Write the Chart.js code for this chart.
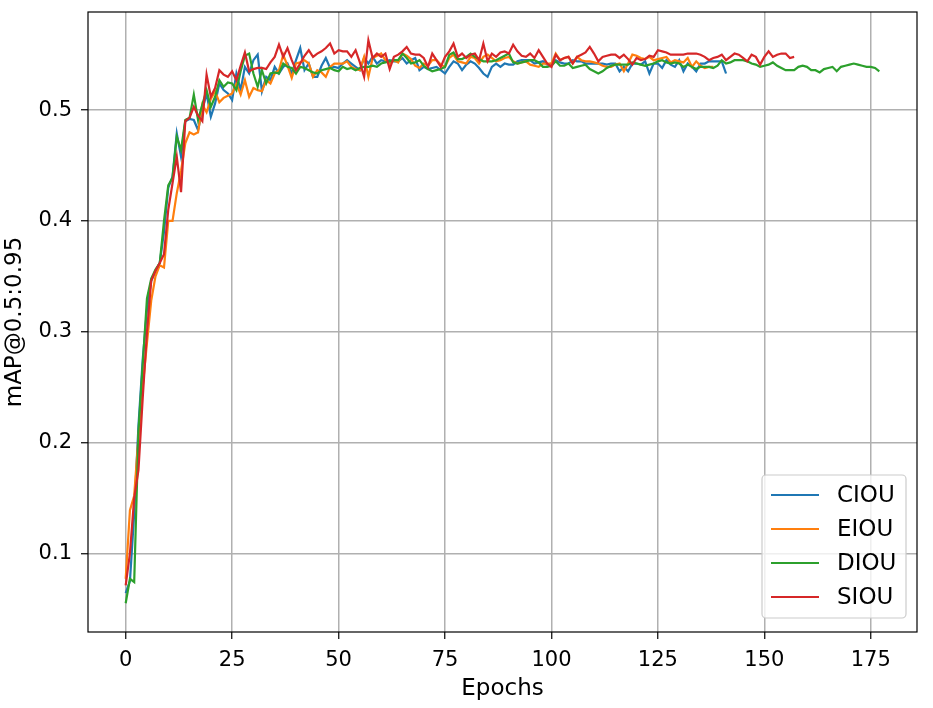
<!DOCTYPE html>
<html>
<head>
<meta charset="utf-8">
<script src="https://cdn.jsdelivr.net/npm/chart.js@4/dist/chart.umd.min.js"></script>
<style>
  html, body { margin: 0; padding: 0; background: #fff; }
  #wrap { width: 933px; height: 708px; }
</style>
</head>
<body>
<div id="wrap"><canvas id="map-chart" width="933" height="708"></canvas></div>
<script>
// mAP@0.5:0.95 per epoch
const CIOU = [
  0.064, 0.075, 0.136, 0.215, 0.275, 0.320, 0.346, 0.355, 0.362, 0.390,
  0.430, 0.440, 0.479, 0.458, 0.490, 0.492, 0.491, 0.482, 0.500, 0.515,
  0.494, 0.506, 0.524, 0.518, 0.515, 0.509, 0.533, 0.518, 0.539, 0.533,
  0.545, 0.550, 0.517, 0.530, 0.527, 0.539, 0.533, 0.539, 0.542, 0.533,
  0.545, 0.556, 0.536, 0.542, 0.530, 0.530, 0.540, 0.547, 0.538, 0.539,
  0.538, 0.542, 0.545, 0.542, 0.539, 0.536, 0.547, 0.542, 0.548, 0.542,
  0.545, 0.544, 0.545, 0.544, 0.544, 0.547, 0.542, 0.545, 0.547, 0.536,
  0.539, 0.537, 0.538, 0.539, 0.536, 0.533, 0.539, 0.544, 0.542, 0.536,
  0.541, 0.544, 0.542, 0.538, 0.533, 0.530, 0.539, 0.542, 0.539, 0.542,
  0.541, 0.541, 0.544, 0.545, 0.545, 0.545, 0.542, 0.543, 0.544, 0.541,
  0.542, 0.545, 0.543, 0.542, 0.542, 0.545, 0.544, 0.544, 0.542, 0.542,
  0.542, 0.542, 0.542, 0.541, 0.542, 0.542, 0.535, 0.539, 0.535, 0.542,
  0.542, 0.541, 0.544, 0.533, 0.542, 0.542, 0.538, 0.545, 0.541, 0.539,
  0.545, 0.535, 0.542, 0.539, 0.535, 0.542, 0.542, 0.544, 0.544, 0.544,
  0.544, 0.533
];
const EIOU = [
  0.077, 0.139, 0.152, 0.205, 0.250, 0.290, 0.328, 0.350, 0.360, 0.358,
  0.400, 0.400, 0.425, 0.445, 0.470, 0.480, 0.478, 0.480, 0.505, 0.498,
  0.510, 0.517, 0.507, 0.511, 0.513, 0.515, 0.524, 0.514, 0.527, 0.512,
  0.520, 0.518, 0.517, 0.527, 0.524, 0.533, 0.536, 0.550, 0.540, 0.529,
  0.542, 0.543, 0.545, 0.542, 0.530, 0.536, 0.534, 0.530, 0.539, 0.542,
  0.542, 0.542, 0.544, 0.539, 0.537, 0.536, 0.548, 0.530, 0.547, 0.549,
  0.551, 0.545, 0.542, 0.545, 0.543, 0.551, 0.549, 0.546, 0.540, 0.538,
  0.542, 0.540, 0.545, 0.545, 0.541, 0.539, 0.547, 0.550, 0.544, 0.543,
  0.542, 0.548, 0.547, 0.542, 0.548, 0.550, 0.547, 0.544, 0.545, 0.547,
  0.548, 0.544, 0.542, 0.543, 0.544, 0.541, 0.540, 0.539, 0.542, 0.542,
  0.542, 0.551, 0.545, 0.547, 0.548, 0.542, 0.548, 0.545, 0.544, 0.544,
  0.543, 0.542, 0.540, 0.539, 0.539, 0.541, 0.542, 0.535, 0.542, 0.550,
  0.549, 0.547, 0.546, 0.548, 0.545, 0.546, 0.547, 0.548, 0.543, 0.545,
  0.544, 0.543, 0.547, 0.539, 0.544, 0.540, 0.538, 0.539, 0.539
];
const DIOU = [
  0.055, 0.077, 0.074, 0.210, 0.270, 0.330, 0.348, 0.356, 0.362, 0.400,
  0.432, 0.439, 0.476, 0.464, 0.491, 0.493, 0.514, 0.491, 0.505, 0.518,
  0.503, 0.512, 0.527, 0.521, 0.525, 0.524, 0.518, 0.535, 0.549, 0.551,
  0.533, 0.521, 0.536, 0.524, 0.533, 0.534, 0.533, 0.542, 0.539, 0.538,
  0.533, 0.539, 0.538, 0.536, 0.534, 0.533, 0.536, 0.537, 0.538, 0.536,
  0.535, 0.539, 0.537, 0.538, 0.536, 0.538, 0.539, 0.539, 0.540, 0.539,
  0.542, 0.543, 0.544, 0.545, 0.545, 0.551, 0.547, 0.542, 0.543, 0.545,
  0.540, 0.537, 0.535, 0.536, 0.537, 0.539, 0.550, 0.552, 0.546, 0.546,
  0.548, 0.551, 0.548, 0.546, 0.544, 0.544, 0.544, 0.545, 0.547, 0.549,
  0.551, 0.543, 0.542, 0.543, 0.544, 0.545, 0.545, 0.543, 0.539, 0.539,
  0.540, 0.544, 0.540, 0.540, 0.542, 0.538, 0.539, 0.540, 0.541, 0.537,
  0.535, 0.533, 0.535, 0.538, 0.540, 0.541, 0.541, 0.541, 0.541, 0.543,
  0.542, 0.541, 0.540, 0.541, 0.542, 0.544, 0.545, 0.543, 0.542, 0.543,
  0.542, 0.539, 0.541, 0.539, 0.537, 0.539, 0.539, 0.539, 0.538, 0.540,
  0.545, 0.542, 0.543, 0.545, 0.545, 0.545, 0.544, 0.542, 0.541, 0.539,
  0.540, 0.541, 0.543, 0.540, 0.538, 0.536, 0.536, 0.536, 0.539, 0.540,
  0.539, 0.536, 0.536, 0.534, 0.537, 0.538, 0.539, 0.535, 0.539, 0.540,
  0.541, 0.542, 0.541, 0.540, 0.539, 0.539, 0.538, 0.535
];
const SIOU = [
  0.071, 0.100, 0.150, 0.175, 0.240, 0.300, 0.346, 0.355, 0.362, 0.370,
  0.410, 0.434, 0.458, 0.426, 0.490, 0.493, 0.503, 0.495, 0.490, 0.532,
  0.512, 0.520, 0.536, 0.532, 0.530, 0.535, 0.527, 0.540, 0.552, 0.535,
  0.537, 0.538, 0.538, 0.537, 0.543, 0.548, 0.559, 0.548, 0.556, 0.545,
  0.536, 0.542, 0.549, 0.554, 0.548, 0.551, 0.553, 0.556, 0.560, 0.551,
  0.554, 0.553, 0.553, 0.548, 0.554, 0.543, 0.530, 0.563, 0.547, 0.551,
  0.548, 0.551, 0.537, 0.548, 0.550, 0.553, 0.557, 0.551, 0.550, 0.550,
  0.547, 0.539, 0.551, 0.545, 0.539, 0.548, 0.553, 0.560, 0.548, 0.551,
  0.547, 0.550, 0.551, 0.545, 0.560, 0.544, 0.551, 0.548, 0.552, 0.553,
  0.551, 0.559, 0.553, 0.549, 0.548, 0.551, 0.547, 0.554, 0.548, 0.542,
  0.539, 0.550, 0.545, 0.547, 0.548, 0.542, 0.548, 0.550, 0.552, 0.557,
  0.551, 0.544, 0.548, 0.549, 0.550, 0.550, 0.547, 0.550, 0.546, 0.541,
  0.547, 0.545, 0.546, 0.549, 0.548, 0.554, 0.553, 0.552, 0.550, 0.550,
  0.550, 0.550, 0.551, 0.551, 0.551, 0.550, 0.548, 0.545, 0.547, 0.548,
  0.550, 0.545, 0.548, 0.551, 0.550, 0.547, 0.544, 0.550, 0.548, 0.541,
  0.548, 0.553, 0.548, 0.550, 0.551, 0.551, 0.547, 0.548
];

const SERIES_NAMES = ['CIOU', 'EIOU', 'DIOU', 'SIOU'];
const SERIES_COLORS = ['#1f77b4', '#ff7f0e', '#2ca02c', '#d62728'];
const X_TICKS = [0, 25, 50, 75, 100, 125, 150, 175];
const Y_TICKS = [0.1, 0.2, 0.3, 0.4, 0.5];

const FONT = "'DejaVu Sans', sans-serif";
Chart.defaults.font.family = FONT;
Chart.defaults.font.size = 21;
Chart.defaults.color = '#000';

// epoch index -> {x, y}
const toPoints = arr => arr.map((v, i) => ({ x: i, y: v }));

// frame round the plot area (matplotlib spines)
const framePlugin = {
  id: 'frame',
  afterDatasetsDraw(chart) {
    const { ctx, chartArea: a } = chart;
    ctx.save();
    ctx.strokeStyle = '#000';
    ctx.lineWidth = 1.2;
    ctx.strokeRect(a.left, a.top, a.right - a.left, a.bottom - a.top);
    ctx.restore();
  }
};

// legend box in the lower right corner of the plot
const boxLegendPlugin = {
  id: 'boxLegend',
  afterDraw(chart) {
    const { ctx, chartArea: a } = chart;
    const sets = chart.data.datasets;
    const w = 144, rowH = 34, h = rowH * sets.length + 7;
    const x0 = a.right - 11 - w, y0 = a.bottom - 14 - h;
    ctx.save();
    ctx.beginPath();
    ctx.roundRect(x0, y0, w, h, 4);
    ctx.fillStyle = 'rgba(255,255,255,0.8)';
    ctx.fill();
    ctx.strokeStyle = '#cccccc';
    ctx.lineWidth = 1.2;
    ctx.stroke();
    ctx.font = '23px ' + FONT;
    ctx.textBaseline = 'middle';
    ctx.textAlign = 'left';
    sets.forEach((ds, i) => {
      const cy = y0 + 20 + i * rowH;
      ctx.strokeStyle = ds.borderColor;
      ctx.lineWidth = 2.2;
      ctx.beginPath();
      ctx.moveTo(x0 + 9, cy);
      ctx.lineTo(x0 + 57, cy);
      ctx.stroke();
      ctx.fillStyle = '#000';
      ctx.fillText(ds.label, x0 + 75, cy + 1);
    });
    ctx.restore();
  }
};

const datasets = [CIOU, EIOU, DIOU, SIOU].map((arr, i) => ({
  label: SERIES_NAMES[i],
  data: toPoints(arr),
  borderColor: SERIES_COLORS[i],
  backgroundColor: SERIES_COLORS[i],
  borderWidth: 2.2,
  pointRadius: 0,
  tension: 0,
  fill: false,
  order: 4 - i   // later series drawn on top
}));

new Chart(document.getElementById('map-chart'), {
  type: 'line',
  data: { datasets },
  options: {
    responsive: false,
    animation: false,
    devicePixelRatio: 1,
    layout: { padding: { top: 12, right: 16, bottom: 0, left: 0 } },
    plugins: {
      legend: { display: false },
      tooltip: { enabled: false }
    },
    scales: {
      x: {
        type: 'linear',
        min: -8.85,
        max: 185.85,
        afterFit: s => { s.height = 76; s.paddingLeft = 0; s.paddingRight = 0; },
        afterBuildTicks: s => { s.ticks = X_TICKS.map(v => ({ value: v })); },
        grid: { color: '#b0b0b0', lineWidth: 1.5, drawTicks: true, tickLength: 7, tickColor: '#000', tickWidth: 1.2 },
        border: { display: false },
        ticks: { padding: 9, maxRotation: 0, autoSkip: false, callback: v => String(v) },
        title: { display: true, text: 'Epochs', font: { size: 23 }, padding: { top: 0, bottom: 5 } }
      },
      y: {
        type: 'linear',
        min: 0.029,
        max: 0.5885,
        afterFit: s => { s.width = 88; s.paddingTop = 0; s.paddingBottom = 0; },
        afterBuildTicks: s => { s.ticks = Y_TICKS.map(v => ({ value: v })); },
        grid: { color: '#b0b0b0', lineWidth: 1.5, drawTicks: true, tickLength: 7, tickColor: '#000', tickWidth: 1.2 },
        border: { display: false },
        ticks: { padding: 9, autoSkip: false, callback: v => v.toFixed(1) },
        title: { display: true, text: 'mAP@0.5:0.95', font: { size: 23 }, padding: { top: 1, bottom: 0 } }
      }
    }
  },
  plugins: [framePlugin, boxLegendPlugin]
});
</script>
</body>
</html>
